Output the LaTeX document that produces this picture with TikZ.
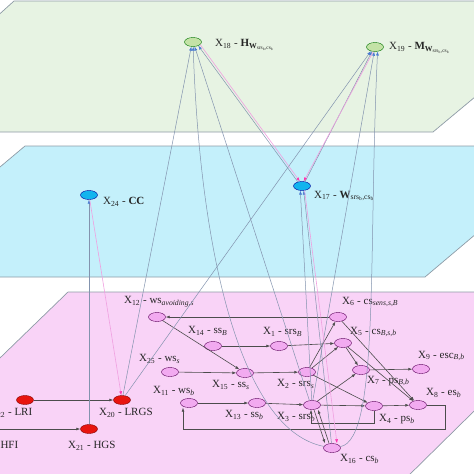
\documentclass[tikz,border=0pt]{standalone}
\usepackage{fontspec}
\setmainfont{Liberation Serif}
\usetikzlibrary{shapes.geometric,arrows.meta}

\definecolor{greenplane}{HTML}{E7F3E3}
\definecolor{cyanplane}{HTML}{C4F0FB}
\definecolor{pinkplane}{HTML}{F9D3F7}
\definecolor{planeedge}{HTML}{8E9BA6}
\definecolor{nodegreen}{HTML}{C3E2A6}
\definecolor{nodecyan}{HTML}{12B4EE}
\definecolor{nodepink}{HTML}{F2AAF0}
\definecolor{nodered}{HTML}{E8150F}
\definecolor{crossline}{HTML}{8393AE}
\definecolor{crosshead}{HTML}{4A7BD0}
\definecolor{pinkline}{HTML}{F0A0E0}
\definecolor{pinkhead}{HTML}{FF36B0}

\newcommand{\lsub}[1]{\textsubscript{#1}}

\begin{document}
\begin{tikzpicture}[x=1pt,y=-1pt,
  every node/.style={font=\fontsize{11}{13}\selectfont},
  vnode/.style={ellipse,minimum width=17pt,minimum height=9pt,inner sep=0pt},
  gnode/.style={vnode,draw=green!45!black,fill=nodegreen},
  cnode/.style={vnode,draw=blue!60!black,fill=nodecyan},
  pnode/.style={vnode,draw=violet!70!black,fill=nodepink},
  rnode/.style={vnode,draw=red!50!black,fill=nodered},
  lbl/.style={anchor=west,inner sep=0pt,text=black!85},
  flow/.style={->,>={Latex[length=4pt,width=3pt]},draw=black!70,line width=0.6pt},
  cross/.style={->,>={Latex[length=4pt,width=3pt,color=crosshead]},draw=crossline,line width=0.5pt},
  pinkarr/.style={->,>={Latex[length=4pt,width=3pt,color=pinkhead]},draw=pinkline,line width=0.6pt},
  plane/.style={draw=planeedge,line width=0.7pt}]
\useasboundingbox (0,0) rectangle (474,474);

% planes
\filldraw[plane,fill=greenplane] (14,1) -- (590,1) -- (433,132) -- (-131,132) -- cycle;
\filldraw[plane,fill=cyanplane] (25,146) -- (580,146) -- (425,277) -- (-131,277) -- cycle;
\filldraw[plane,fill=pinkplane] (68,292) -- (595,292) -- (400,484) -- (-130,484) -- cycle;

% top layer
\node[gnode] (X18) at (193,42) {};
\node[gnode] (X19) at (375,47) {};
% middle layer
\node[cnode] (X24) at (89,195) {};
\node[cnode] (X17) at (302,186) {};
% bottom layer
\node[pnode] (X12) at (157,317) {};
\node[pnode] (X14) at (213,346) {};
\node[pnode] (X1) at (279,346) {};
\node[pnode] (X25) at (170,372) {};
\node[pnode] (X15) at (245,373) {};
\node[pnode] (X2) at (307,372) {};
\node[pnode] (X6) at (338,317) {};
\node[pnode] (X5) at (343,343) {};
\node[pnode] (X7) at (361,370) {};
\node[pnode] (X9) at (421,369) {};
\node[pnode] (X11) at (189,403) {};
\node[pnode] (X13) at (257,403) {};
\node[pnode] (X3) at (312,405) {};
\node[pnode] (X4) at (374,406) {};
\node[pnode] (X8) at (418,405) {};
\node[pnode] (X16) at (332,448) {};
\node[rnode] (X20) at (122,400) {};
\node[rnode] (X22) at (25,400) {};
\node[rnode] (X21) at (89,429) {};
\node[rnode] (X23) at (-9,429) {};

% labels
\node[lbl] (l18) at (215,45) {X\lsub{18} - \textbf{H}\lsub{\textbf{W}\lsub{srs\lsub{b},cs\lsub{b}}}};
\node[lbl] (l19) at (389,48) {X\lsub{19} - \textbf{M}\lsub{\textbf{W}\lsub{srs\lsub{b},cs\lsub{b}}}};
\node[lbl] (l24) at (103,202) {X\lsub{24} - \textbf{CC}};
\node[lbl] (l17) at (314,196) {X\lsub{17} - \textbf{W}\lsub{srs\lsub{b},cs\lsub{b}}};
\node[lbl] (l12) at (124,302) {X\lsub{12} - ws\lsub{\textit{avoiding,s}}};
\node[lbl] (l14) at (188,331) {X\lsub{14} - ss\lsub{\textit{B}}};
\node[lbl] (l1) at (263,332) {X\lsub{1} - srs\lsub{\textit{B}}};
\node[lbl] (l25) at (139,359) {X\lsub{25} - ws\lsub{\textit{s}}};
\node[lbl] (l15) at (212,385) {X\lsub{15} - ss\lsub{\textit{s}}};
\node[lbl] (l2) at (277,384) {X\lsub{2} - srs\lsub{\textit{s}}};
\node[lbl] (l6) at (342,302) {X\lsub{6} - cs\lsub{\textit{sens,s,B}}};
\node[lbl] (l5) at (350,332) {X\lsub{5} - cs\lsub{\textit{B,s,b}}};
\node[lbl] (l7) at (367,381) {X\lsub{7} - ps\lsub{\textit{B,b}}};
\node[lbl] (l9) at (418,356) {X\lsub{9} - esc\lsub{\textit{B,b}}};
\node[lbl] (l8) at (426,393) {X\lsub{8} - es\lsub{\textit{b}}};
\node[lbl] (l4) at (379,419) {X\lsub{4} - ps\lsub{\textit{b}}};
\node[lbl] (l3) at (277,417) {X\lsub{3} - srs\lsub{\textit{b}}};
\node[lbl] (l13) at (225,415) {X\lsub{13} - ss\lsub{\textit{b}}};
\node[lbl] (l11) at (153,391) {X\lsub{11} - ws\lsub{\textit{b}}};
\node[lbl] (l16) at (340,459) {X\lsub{16} - cs\lsub{\textit{b}}};
\node[lbl] (l20) at (99,413) {X\lsub{20} - LRGS};
\node[lbl] (l21) at (68,446) {X\lsub{21} - HGS};
\node[lbl] (l22) at (-11,413) {X\lsub{22} - LRI};
\node[lbl] (l23) at (-25,446) {X\lsub{23} - HFI};

\coordinate (loopA) at (445,429);
\coordinate (loopB) at (183,429);
\coordinate (loopC) at (374,423);

% bottom layer arrows
\draw[flow] (X6) -- (X12);
\draw[flow] (X12) -- (X15);
\draw[flow] (X14) -- (X1);
\draw[flow] (X1) -- (X5);
\draw[flow] (X25) -- (X15);
\draw[flow] (X15) -- (X2);
\draw[flow] (X2) -- (X6);
\draw[flow] (X2) -- (X5);
\draw[flow] (X2) -- (X4);
\draw[flow] (X5) -- (X7);
\draw[flow] (X5) -- (X8);
\draw[flow] (X6) -- (X8);
\draw[flow] (X7) -- (X9);
\draw[flow] (X3) -- (X7);
\draw[flow] (X3) -- (X4);
\draw[flow] (X4) -- (X8);
\draw[flow] (X11) -- (X13);
\draw[flow] (X13) -- (X3);
\draw[flow] (X22) -- (X20);
\draw[flow] (X23) -- (X21);
\draw[flow] (X8.east) -| (loopA) -- (loopB) -- (loopB |- X11.south);
\draw[flow] (X4.south) -- (loopC) -| ([xshift=-1pt]X3.south);
\draw[flow] ([xshift=2pt]X3.south) -- ([xshift=-7pt]X16.north);
\draw[flow] ([xshift=-3pt]X16.north) -- ([xshift=6pt]X3.south);

% arrows between layers
\draw[cross] (X21) -- (X24);
\draw[pinkarr] (X24) -- (X20);
\draw[cross] (X20) -- (X18.250);
\draw[cross] (X20) -- (X19.225);
\draw[cross] (X3.120) -- (X18.290);
\draw[cross] (X3) -- (X19.260);
\draw[cross] (X3) -- (X17.250);
\draw[cross] (X16) -- (X17.290);
\draw[pinkarr] (X17.300) -- ([xshift=5pt]X16.north);
\draw[cross] (X17.135) -- (X18.325);
\draw[pinkarr] (X18.340) -- (X17.115);
\draw[cross] (X17.55) -- (X19.235);
\draw[pinkarr] (X19.250) -- (X17.70);
\draw[cross] (X16) .. controls (240,430) and (200,250) .. (X18);
\draw[cross] (X16) .. controls (380,440) and (368,250) .. (X19.300);
\end{tikzpicture}
\end{document}
